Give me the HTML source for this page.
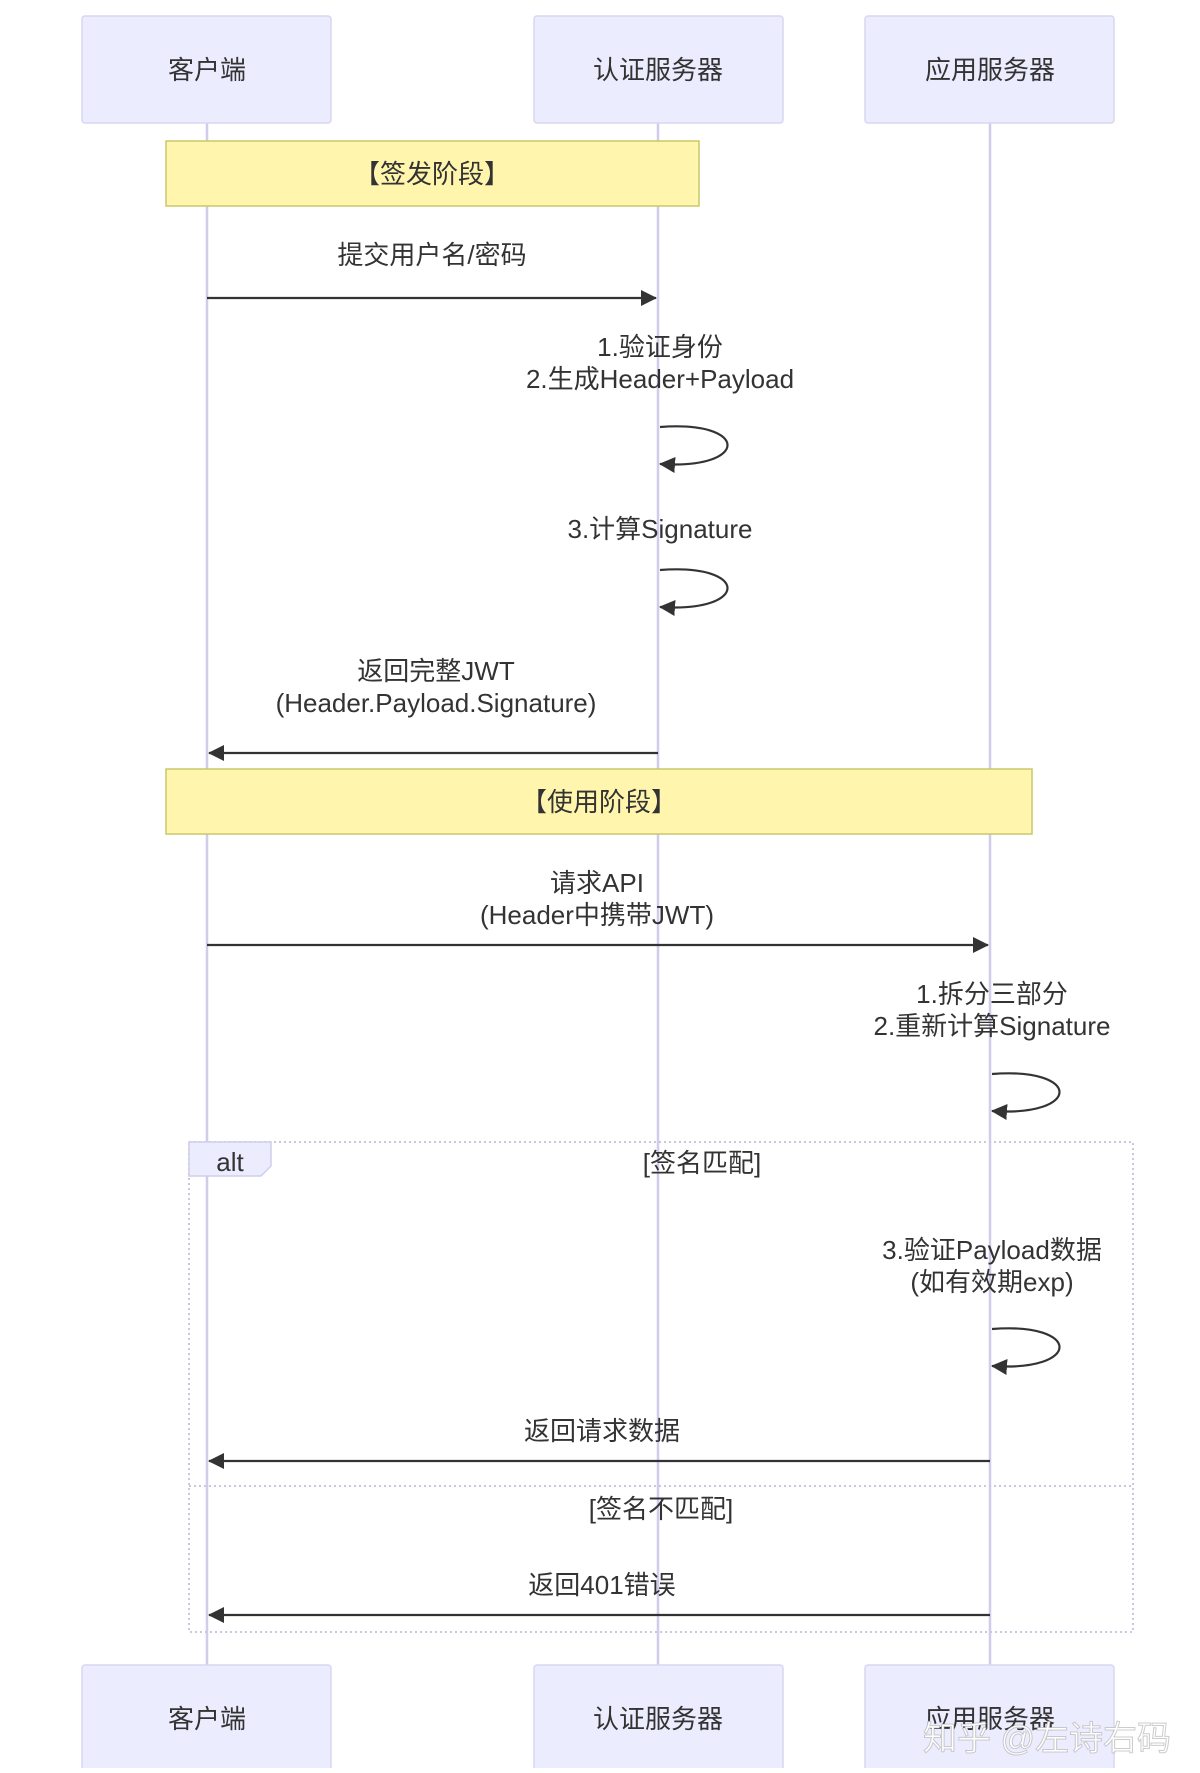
<!DOCTYPE html>
<html><head><meta charset="utf-8"><style>
html,body{margin:0;padding:0;background:#fff;}
svg text{font-family:"Liberation Sans","Noto Sans CJK SC",sans-serif;fill:#333;}
</style></head><body>
<svg width="1200" height="1768" viewBox="0 0 1200 1768" xmlns="http://www.w3.org/2000/svg">
<defs>
<marker id="ah" markerWidth="16" markerHeight="16" refX="15" refY="8" orient="auto" markerUnits="userSpaceOnUse">
<path d="M0,0 L16,8 L0,16 z" fill="#333"/></marker>
</defs>
<g stroke="#d0cdea" stroke-width="2.5">
<line x1="207" y1="123" x2="207" y2="1665"/>
<line x1="658" y1="123" x2="658" y2="1665"/>
<line x1="990" y1="123" x2="990" y2="1665"/>
</g>
<g fill="#ececff" stroke="#d8d6f0" stroke-width="1.5">
<rect x="82" y="16" width="249" height="107" rx="3"/>
<rect x="534" y="16" width="249" height="107" rx="3"/>
<rect x="865" y="16" width="249" height="107" rx="3"/>
<rect x="82" y="1665" width="249" height="107" rx="3"/>
<rect x="534" y="1665" width="249" height="107" rx="3"/>
<rect x="865" y="1665" width="249" height="107" rx="3"/>
</g>
<g font-size="26" text-anchor="middle">
<text x="207" y="79">客户端</text>
<text x="658" y="79">认证服务器</text>
<text x="990" y="79">应用服务器</text>
<text x="207" y="1728">客户端</text>
<text x="658" y="1728">认证服务器</text>
<text x="990" y="1728">应用服务器</text>
</g>
<rect x="166" y="141" width="533" height="65" fill="#fff5ad" stroke="#c8c86a" stroke-width="1.5"/>
<text x="432" y="183" font-size="26" text-anchor="middle">【签发阶段】</text>
<rect x="166" y="769" width="866" height="65" fill="#fff5ad" stroke="#c8c86a" stroke-width="1.5"/>
<text x="599" y="811" font-size="26" text-anchor="middle">【使用阶段】</text>
<rect x="189" y="1142" width="944" height="490" fill="none" stroke="#c8c8e0" stroke-width="2" stroke-dasharray="2,3"/>
<line x1="189" y1="1486" x2="1133" y2="1486" stroke="#c8c8e0" stroke-width="2" stroke-dasharray="2,3"/>
<path d="M189,1142 H271 V1166 L261,1176 H189 z" fill="#ececff" stroke="#d0cdea" stroke-width="1.5"/>
<g font-size="26" text-anchor="middle">
<text x="230" y="1171">alt</text>
<text x="702" y="1172">[签名匹配]</text>
<text x="661" y="1518">[签名不匹配]</text>
<text x="432" y="264">提交用户名/密码</text>
<text x="660" y="356">1.验证身份</text>
<text x="660" y="388">2.生成Header+Payload</text>
<text x="660" y="538">3.计算Signature</text>
<text x="436" y="680">返回完整JWT</text>
<text x="436" y="712">(Header.Payload.Signature)</text>
<text x="597" y="892">请求API</text>
<text x="597" y="924">(Header中携带JWT)</text>
<text x="992" y="1003">1.拆分三部分</text>
<text x="992" y="1035">2.重新计算Signature</text>
<text x="992" y="1259">3.验证Payload数据</text>
<text x="992" y="1291">(如有效期exp)</text>
<text x="602" y="1440">返回请求数据</text>
<text x="602" y="1594">返回401错误</text>
</g>
<g stroke="#333" stroke-width="2.2" fill="none">
<line x1="207" y1="298" x2="656" y2="298" marker-end="url(#ah)"/>
<path d="M660,427 C750,420 750,470 660,464" marker-end="url(#ah)"/>
<path d="M660,570 C750,563 750,613 660,607" marker-end="url(#ah)"/>
<line x1="658" y1="753" x2="209" y2="753" marker-end="url(#ah)"/>
<line x1="207" y1="945" x2="988" y2="945" marker-end="url(#ah)"/>
<path d="M992,1074 C1082,1067 1082,1117 992,1111" marker-end="url(#ah)"/>
<path d="M992,1329 C1082,1322 1082,1372 992,1366" marker-end="url(#ah)"/>
<line x1="990" y1="1461" x2="209" y2="1461" marker-end="url(#ah)"/>
<line x1="990" y1="1615" x2="209" y2="1615" marker-end="url(#ah)"/>
</g>
<text x="923" y="1750" font-size="34" fill="#fff" stroke="#999" stroke-opacity="0.5" stroke-width="1" style="fill:#fff">知乎 @左诗右码</text>
</svg>
</body></html>
